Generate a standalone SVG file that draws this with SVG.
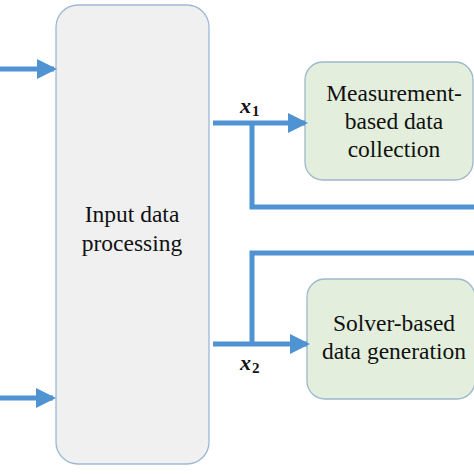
<svg xmlns="http://www.w3.org/2000/svg" width="474" height="474" viewBox="0 0 474 474" font-family="Liberation Serif, Times New Roman, Times, serif">
<defs>
<marker id="ah" markerWidth="4" markerHeight="4" refX="3.4" refY="2" orient="auto" markerUnits="strokeWidth" viewBox="0 0 4 4">
<path d="M0,0 L4,2 L0,4 Z" fill="#4f93d3"/>
</marker>
</defs>
<style>
.lbl{font-size:23.5px;fill:#111;text-anchor:middle}
.math{font-size:22px;font-weight:bold;font-style:italic;fill:#111}
.sub{font-size:15px;font-weight:bold;fill:#111}
.box{fill:#f0f0f0;stroke:#9db8d6;stroke-width:1.3}
.gbox{fill:#e3efdc;stroke:#9db8cc;stroke-width:1.3}
.wire{fill:none;stroke:#4f93d3;stroke-width:5}
</style>
<rect width="474" height="474" fill="#ffffff"/>
<g id="input-processing">
<rect class="box" x="56" y="5" width="153" height="459" rx="22"/>
<text class="lbl" font-family="Liberation Serif" x="132" y="222">Input data</text>
<text class="lbl" font-family="Liberation Serif" x="132" y="251">processing</text>
</g>
<g id="measurement">
<rect class="gbox" x="305" y="62" width="168" height="118" rx="18"/>
<text class="lbl" font-family="Liberation Serif" x="394" y="101">Measurement-</text>
<text class="lbl" font-family="Liberation Serif" x="394" y="129">based data</text>
<text class="lbl" font-family="Liberation Serif" x="394" y="157">collection</text>
</g>
<g id="solver">
<rect class="gbox" x="307" y="279" width="168" height="120" rx="18"/>
<text class="lbl" font-family="Liberation Serif" x="394" y="331">Solver-based</text>
<text class="lbl" font-family="Liberation Serif" x="394" y="359">data generation</text>
</g>
<g id="connectors">
<line class="wire" x1="0" y1="69" x2="54" y2="69" marker-end="url(#ah)"/>
<line class="wire" x1="0" y1="398" x2="53" y2="398" marker-end="url(#ah)"/>
<line class="wire" x1="213" y1="123" x2="305" y2="123" marker-end="url(#ah)"/>
<polyline class="wire" points="252,123 252,207 474,207"/>
<line class="wire" x1="213" y1="344" x2="307" y2="344" marker-end="url(#ah)"/>
<polyline class="wire" points="252,344 252,253 474,253"/>
</g>
<g id="labels">
<text x="240" y="113" font-family="Liberation Serif"><tspan class="math">x</tspan><tspan class="sub" dx="1" dy="3">1</tspan></text>
<text x="240" y="370" font-family="Liberation Serif"><tspan class="math">x</tspan><tspan class="sub" dx="1" dy="3">2</tspan></text>
</g>
</svg>
